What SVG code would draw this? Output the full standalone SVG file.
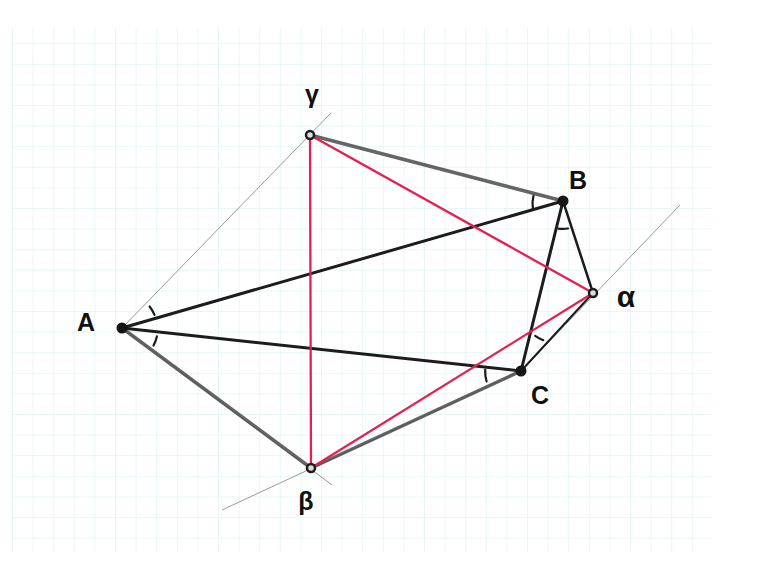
<svg xmlns="http://www.w3.org/2000/svg" width="772" height="572" viewBox="0 0 772 572">
<defs>
<pattern id="grid" x="12" y="2" width="20.6" height="20.6" patternUnits="userSpaceOnUse">
<path d="M0 0V20.6M0 0H20.6" fill="none" stroke="#d4eef1" stroke-width="1"/>
</pattern>
<style>
.thin{stroke:#9a9a9a;stroke-width:1;fill:none}
.blk{stroke:#1c1c1c;stroke-width:3;stroke-linecap:round;fill:none}
.gry{stroke:#4a4a4a;stroke-width:3.5;stroke-linecap:round;fill:none;opacity:.85}
.red{stroke:#e3204f;stroke-width:2.3;stroke-linecap:round;fill:none}
.mark{stroke:#1c1c1c;stroke-width:2.2;fill:none;stroke-linecap:round}
.dot{fill:#151515}
.ring{fill:#ddd;stroke:#1c1c1c;stroke-width:2.5}
.lbl{font-family:"Liberation Sans",Arial,sans-serif;font-weight:bold;font-size:25px;fill:#111;text-anchor:middle}
</style>
</defs>
<rect width="772" height="572" fill="#fff"/>
<rect x="12" y="28" width="700" height="524" fill="url(#grid)"/>
<g id="connectors">
<line class="thin" x1="122" y1="328" x2="331" y2="113"/>
<line class="thin" x1="222" y1="510" x2="521" y2="371"/>
<line class="thin" x1="521" y1="371" x2="680" y2="205"/>
<line class="thin" x1="122" y1="328" x2="332" y2="485"/>
<line class="gry" x1="310" y1="135" x2="563" y2="201"/>
<line class="gry" x1="122" y1="328" x2="311" y2="468"/>
<line class="gry" x1="311" y1="468" x2="521" y2="371"/>
<line class="blk" x1="122" y1="328" x2="563" y2="201"/>
<line class="blk" x1="122" y1="328" x2="521" y2="371"/>
<line class="blk" x1="563" y1="201" x2="521" y2="371"/>
<line class="blk" x1="563" y1="201" x2="593" y2="293" style="stroke-width:2.5"/>
<line class="blk" x1="521" y1="371" x2="593" y2="293" style="stroke-width:2"/>
<line class="red" x1="310" y1="135" x2="311" y2="468"/>
<line class="red" x1="310" y1="135" x2="593" y2="293"/>
<line class="red" x1="311" y1="468" x2="593" y2="293"/>
</g>
<g id="angle-marks">
<path class="mark" d="M149.6 306.5 A35 35 0 0 1 154.5 314.9"/>
<path class="mark" d="M156.9 336.4 A36 36 0 0 1 153.5 345.5"/>
<path class="mark" d="M533.5 195.8 A30 30 0 0 0 532.9 208.5"/>
<path class="mark" d="M558.5 228.6 A28 28 0 0 0 568.1 228.5"/>
<path class="mark" d="M535.2 335.8 A38 38 0 0 0 543.3 340.2"/>
<path class="mark" d="M486.6 381.5 A36 36 0 0 1 485.2 369.7"/>
</g>
<g id="A"><circle class="dot" cx="122" cy="328" r="5.5"/><text class="lbl" x="86" y="331">A</text></g>
<g id="B"><circle class="dot" cx="563" cy="201" r="5.5"/><text class="lbl" x="578" y="189">B</text></g>
<g id="C"><circle class="dot" cx="521" cy="371" r="5.5"/><text class="lbl" x="540" y="404">C</text></g>
<g id="gamma"><circle class="ring" cx="310" cy="135" r="4"/><text class="lbl" x="312" y="103">γ</text></g>
<g id="alpha"><circle class="ring" cx="593" cy="293" r="4"/><text class="lbl" x="626" y="307" style="font-size:30px">α</text></g>
<g id="beta"><circle class="ring" cx="311" cy="468" r="4"/><text class="lbl" x="306" y="510">β</text></g>
</svg>
